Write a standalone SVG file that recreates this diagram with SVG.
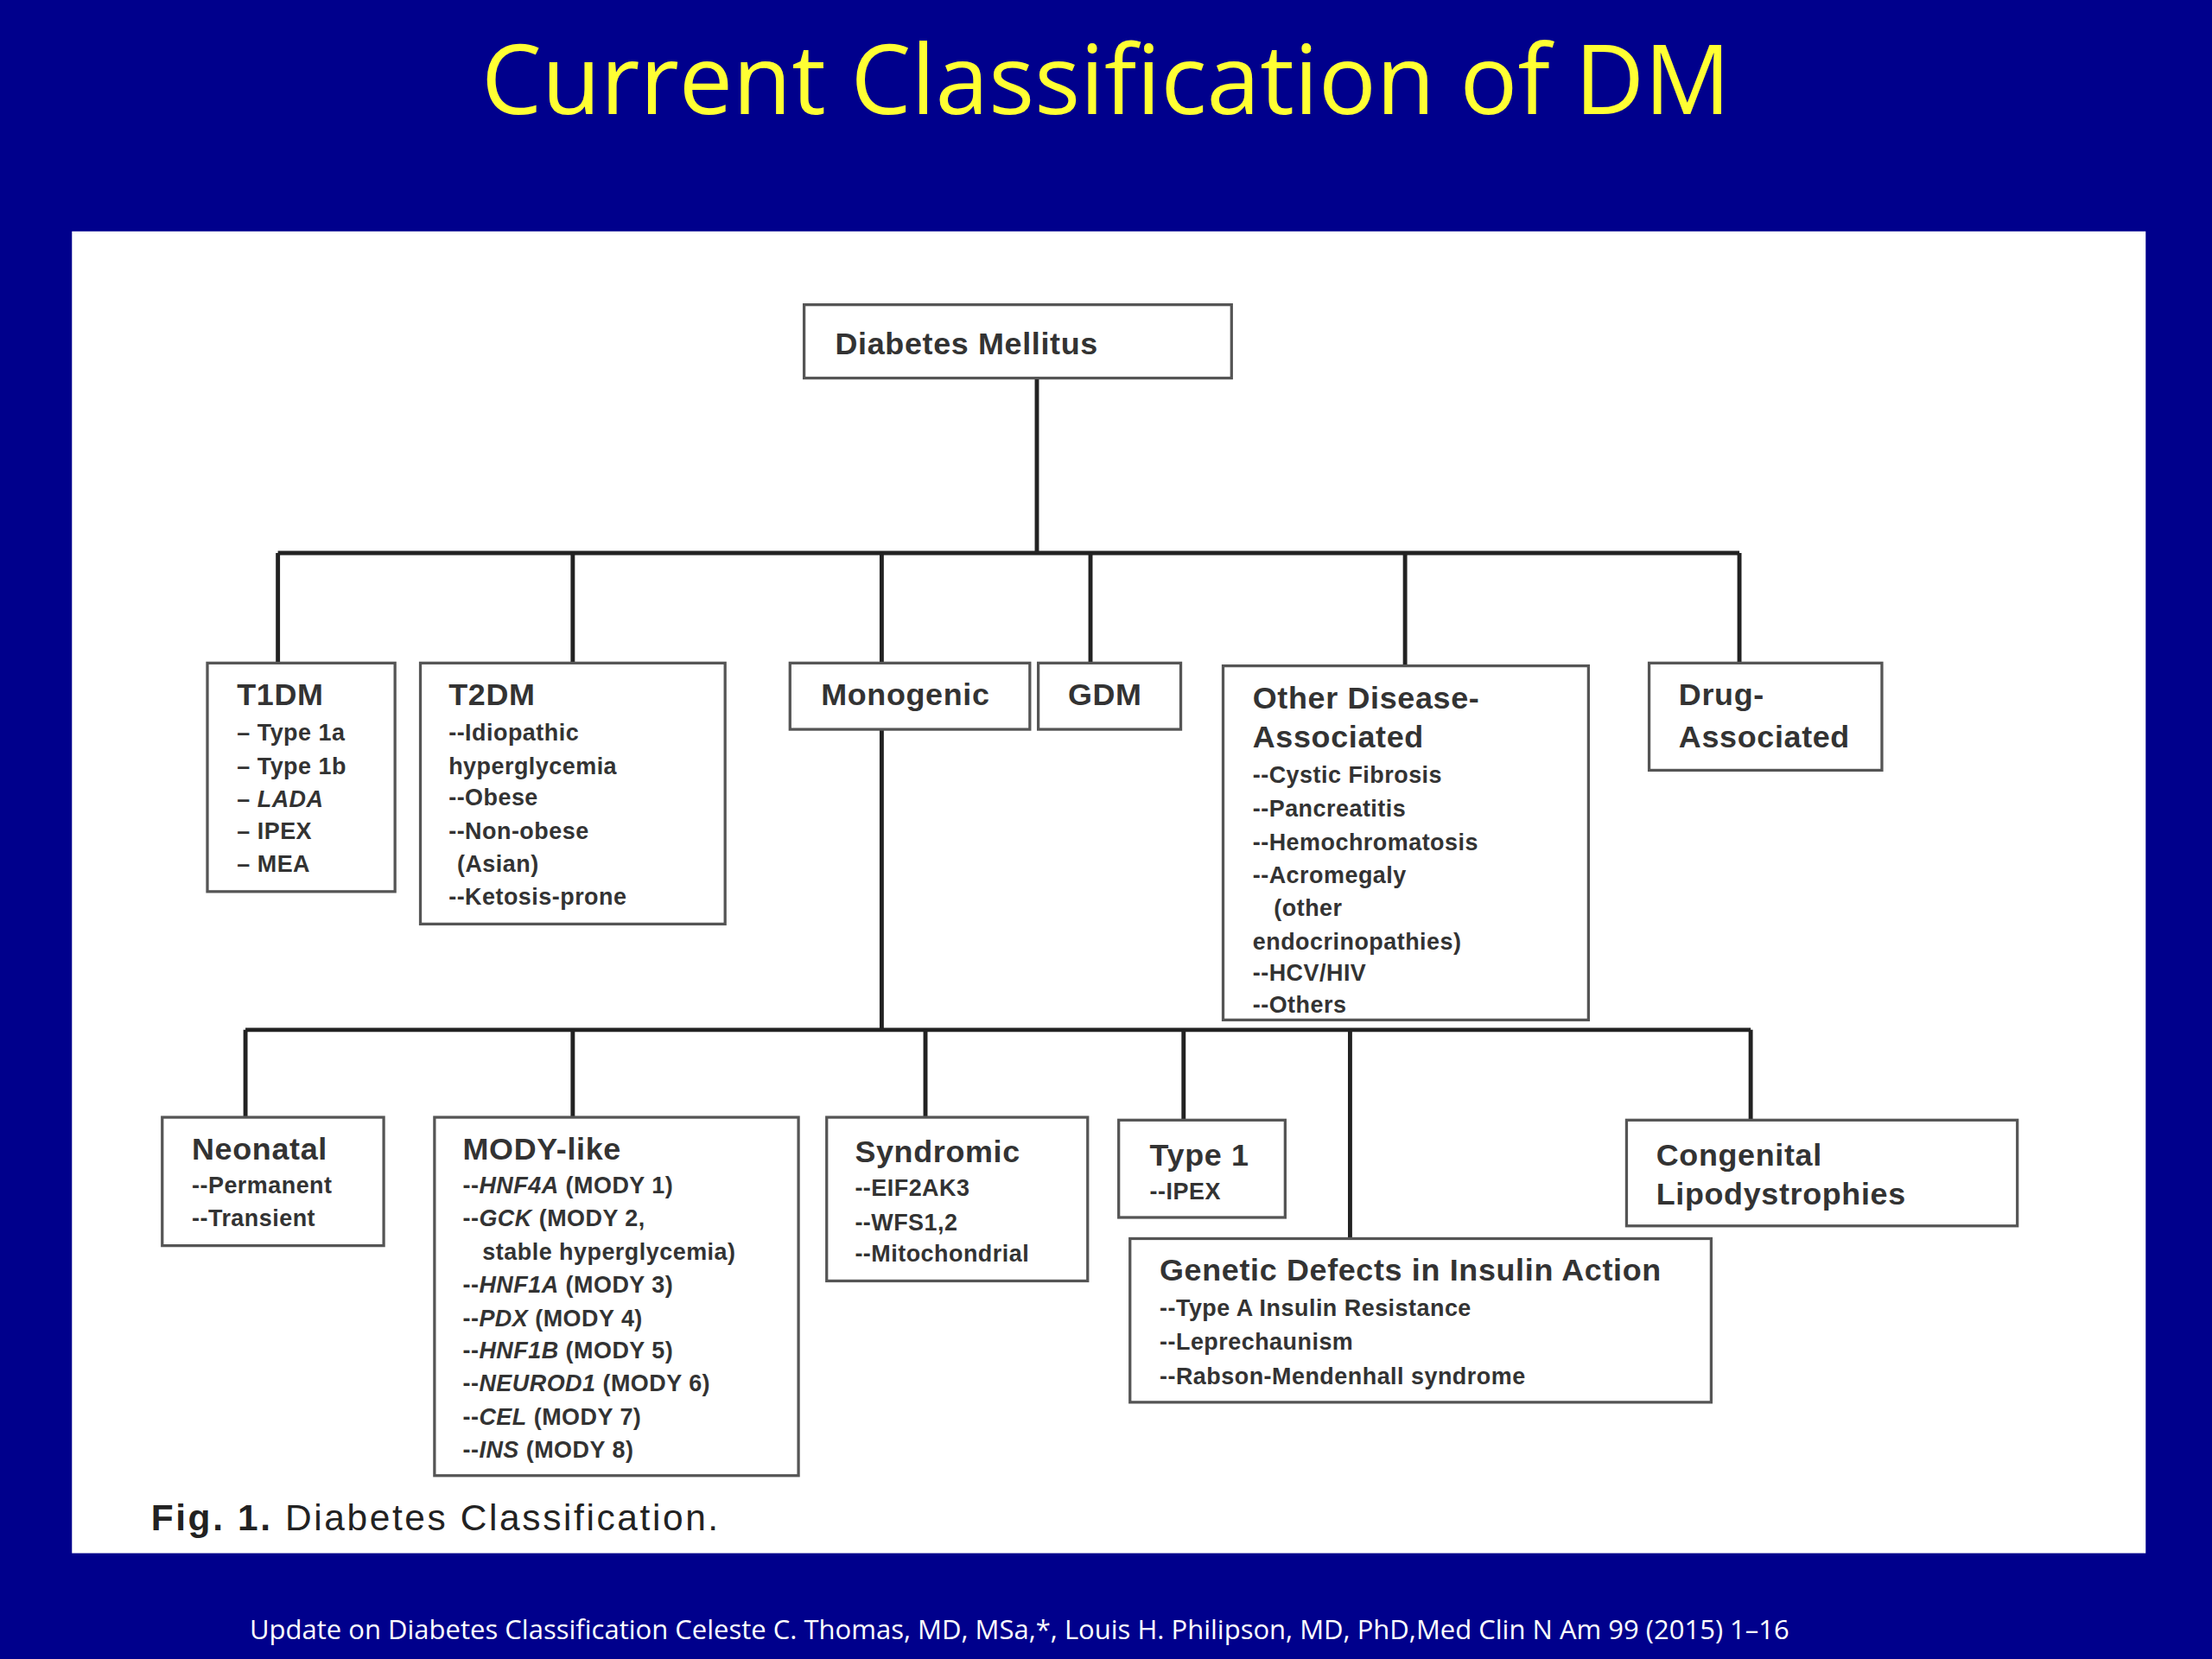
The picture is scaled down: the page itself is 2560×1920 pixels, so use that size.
<svg xmlns="http://www.w3.org/2000/svg" width="2560" height="1920" viewBox="0 0 2560 1920">
<style>
.b{fill:#fff;stroke:#555;stroke-width:2}
.t{font-family:"Liberation Sans",Arial,sans-serif;font-size:22px;fill:#333;font-weight:bold;letter-spacing:0.4px}
.s{font-family:"Liberation Sans",Arial,sans-serif;font-size:16.5px;fill:#333;font-weight:bold;letter-spacing:0.3px}
.c{stroke:#222;stroke-width:3;fill:none}
</style>
<rect width="2560" height="1920" fill="#00008c"/>
<g transform="scale(1.63265)">
<text x="784" y="81" text-anchor="middle" font-family="Open Sans,Liberation Sans,sans-serif" font-size="68" fill="#ffff33">Current Classification of DM</text>
<rect x="51" y="164" width="1470" height="937" fill="#fff"/>
<g id="connectors" class="c">
<path d="M735 268V392M197 392H1233M197 392V470M406 392V470M625 392V470M773 392V470M996 392V472M1233 392V470"/>
<path d="M625 517V730M174 730H1241M174 730V792M406 730V792M656 730V792M839 730V794M957 730V878M1241 730V794"/>
</g>
<g id="dm"><rect class="b" x="570" y="216" width="303" height="52"/><text class="t" x="592" y="251" font-size="24">Diabetes Mellitus</text></g>
<g id="t1dm"><rect class="b" x="147" y="470" width="133" height="162"/><text class="t" x="168" y="500">T1DM</text>
<text class="s" x="168" y="525">– Type 1a</text><text class="s" x="168" y="549">– Type 1b</text><text class="s" x="168" y="572">– <tspan font-style="italic">LADA</tspan></text><text class="s" x="168" y="595">– IPEX</text><text class="s" x="168" y="618">– MEA</text></g>
<g id="t2dm"><rect class="b" x="298" y="470" width="216" height="185"/><text class="t" x="318" y="500">T2DM</text>
<text class="s" x="318" y="525">--Idiopathic</text><text class="s" x="318" y="549">hyperglycemia</text><text class="s" x="318" y="571">--Obese</text><text class="s" x="318" y="595">--Non-obese</text><text class="s" x="324" y="618">(Asian)</text><text class="s" x="318" y="641">--Ketosis-prone</text></g>
<g id="mono"><rect class="b" x="560" y="470" width="170" height="47"/><text class="t" x="582" y="500">Monogenic</text></g>
<g id="gdm"><rect class="b" x="736" y="470" width="101" height="47"/><text class="t" x="757" y="500">GDM</text></g>
<g id="other"><rect class="b" x="867" y="472" width="259" height="251"/><text class="t" x="888" y="502">Other Disease-</text><text class="t" x="888" y="530">Associated</text>
<text class="s" x="888" y="555">--Cystic Fibrosis</text><text class="s" x="888" y="579">--Pancreatitis</text><text class="s" x="888" y="603">--Hemochromatosis</text><text class="s" x="888" y="626">--Acromegaly</text><text class="s" x="903" y="649">(other</text><text class="s" x="888" y="673">endocrinopathies)</text><text class="s" x="888" y="695">--HCV/HIV</text><text class="s" x="888" y="718">--Others</text></g>
<g id="drug"><rect class="b" x="1169" y="470" width="165" height="76"/><text class="t" x="1190" y="500">Drug-</text><text class="t" x="1190" y="530">Associated</text></g>
<g id="neo"><rect class="b" x="115" y="792" width="157" height="91"/><text class="t" x="136" y="822">Neonatal</text><text class="s" x="136" y="846">--Permanent</text><text class="s" x="136" y="869">--Transient</text></g>
<g id="mody"><rect class="b" x="308" y="792" width="258" height="254"/><text class="t" x="328" y="822">MODY-like</text>
<text class="s" x="328" y="846">--<tspan font-style="italic">HNF4A</tspan> (MODY 1)</text>
<text class="s" x="328" y="869">--<tspan font-style="italic">GCK</tspan> (MODY 2,</text>
<text class="s" x="342" y="893">stable hyperglycemia)</text>
<text class="s" x="328" y="916">--<tspan font-style="italic">HNF1A</tspan> (MODY 3)</text>
<text class="s" x="328" y="940">--<tspan font-style="italic">PDX</tspan> (MODY 4)</text>
<text class="s" x="328" y="963">--<tspan font-style="italic">HNF1B</tspan> (MODY 5)</text>
<text class="s" x="328" y="986">--<tspan font-style="italic">NEUROD1</tspan> (MODY 6)</text>
<text class="s" x="328" y="1010">--<tspan font-style="italic">CEL</tspan> (MODY 7)</text>
<text class="s" x="328" y="1033">--<tspan font-style="italic">INS</tspan> (MODY 8)</text></g>
<g id="synd"><rect class="b" x="586" y="792" width="185" height="116"/><text class="t" x="606" y="824">Syndromic</text><text class="s" x="606" y="848">--EIF2AK3</text><text class="s" x="606" y="872">--WFS1,2</text><text class="s" x="606" y="894">--Mitochondrial</text></g>
<g id="type1"><rect class="b" x="793" y="794" width="118" height="69"/><text class="t" x="815" y="826">Type 1</text><text class="s" x="815" y="850">--IPEX</text></g>
<g id="cong"><rect class="b" x="1153" y="794" width="277" height="75"/><text class="t" x="1174" y="826">Congenital</text><text class="t" x="1174" y="854">Lipodystrophies</text></g>
<g id="gen"><rect class="b" x="801" y="878" width="412" height="116"/><text class="t" x="822" y="908">Genetic Defects in Insulin Action</text><text class="s" x="822" y="933">--Type A Insulin Resistance</text><text class="s" x="822" y="957">--Leprechaunism</text><text class="s" x="822" y="981">--Rabson-Mendenhall syndrome</text></g>
<text x="107" y="1085" font-family="Liberation Sans,Arial,sans-serif" font-size="26" letter-spacing="1.6" fill="#222"><tspan font-weight="bold">Fig. 1.</tspan> Diabetes Classification.</text>
<text x="177" y="1162" font-family="Open Sans,Liberation Sans,sans-serif" font-size="19" fill="#fff">Update on Diabetes Classification Celeste C. Thomas, MD, MSa,*, Louis H. Philipson, MD, PhD,Med Clin N Am 99 (2015) 1–16</text>
</g>
</svg>
